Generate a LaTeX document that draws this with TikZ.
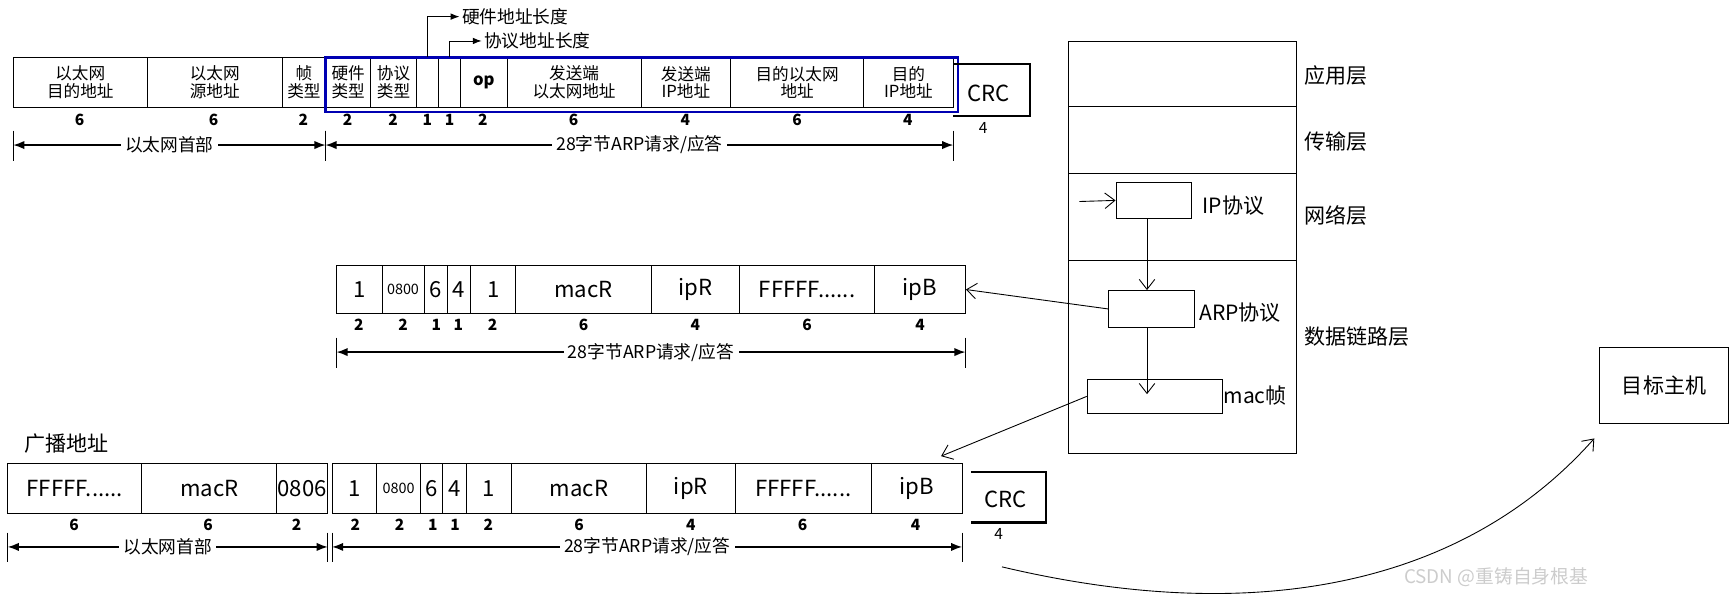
\documentclass[tikz,border=0pt]{standalone}
\usepackage{fontspec}
\setmainfont{Noto Sans CJK SC}
\usetikzlibrary{arrows.meta}
\tikzset{
  field/.style={draw=black,thick,inner sep=0pt,align=center,font=\fontsize{15}{16}\selectfont},
  bigfield/.style={field,font=\fontsize{20}{21}\selectfont},
  num/.style={inner sep=0pt,font=\bfseries\fontsize{14}{14}\selectfont},
  span/.style={{Latex[length=10pt]}-{Latex[length=10pt]},very thick},
  tick/.style={thick},
  flow/.style={-{Straight Barb[length=9pt,width=14pt]},thick},
  layer/.style={draw=black,thick,inner sep=0pt},
  txt/.style={inner sep=0pt,anchor=west,font=\fontsize{19}{20}\selectfont},
}
\newcommand\ffff{FFFFF......}
\newcommand\fieldrow[4]{% top, bottom, style, list a/b/text/name
  \foreach \a/\b/\t/\n in {#4}
    \node[#3,minimum width={(\b-\a)*1pt},minimum height={(#2-#1)*1pt}] (\n) at ({(\a+\b)/2},{(#1+#2)/2}) {\t};}
\newcommand\numrow[2]{% y, list x/value
  \foreach \x/\v in {#2} \node[num] at (\x,#1) {\v};}
\newcommand\spanrow[4]{% y, left, right, text
  \draw[tick] (#2,#1-13) -- (#2,#1+14);
  \draw[tick] (#3,#1-13) -- (#3,#1+14);
  \draw[span] (#2,#1) -- (#3,#1);
  \node[fill=white,inner sep=4pt,font=\fontsize{16}{16}\selectfont] at ({(#2+#3)/2},#1) {#4};}
\begin{document}
\begin{tikzpicture}[x=1pt,y=-1pt]
\useasboundingbox (0,0) rectangle (1568,552);
% row 1: arp frame format
\fieldrow{52}{97}{field}{12/133/{以太网\\目的地址}/dst, 133/255/{以太网\\源地址}/src, 255/294/{帧\\类型}/typ,
  294/335/{硬件\\类型}/hw, 335/376/{协议\\类型}/pro, 376/396/{}/hl, 396/416/{}/pl, 416/458/{\bfseries op}/op,
  458/579/{发送端\\以太网地址}/smac, 579/660/{发送端\\IP地址}/sip, 660/780/{目的以太网\\地址}/tmac, 780/861/{目的\\IP地址}/tip}
\draw[blue!70!black,line width=2pt] (294,52) rectangle (865,101);
\draw[line width=2pt] (861,58) -- (930,58) -- (930,105) -- (861,105);
\node[inner sep=0pt,font=\fontsize{20}{21}\selectfont] (crc1) at (893,84) {CRC};
\numrow{108}{72/6,193/6,274/2,314/2,355/2,386/1,406/1,436/2,518/6,619/4,720/6,820/4}
\node[num,font=\fontsize{14}{14}\selectfont] at (888,116) {4};
\spanrow{131}{12}{294}{以太网首部}
\spanrow{131}{294}{861}{28字节ARP请求/应答}
\draw[-{Latex[length=8pt]},thick] (hl.north) |- (415,15) node[right,inner sep=2pt,font=\fontsize{16}{16}\selectfont] {硬件地址长度};
\draw[-{Latex[length=8pt]},thick] (pl.north) |- (435,37) node[right,inner sep=2pt,font=\fontsize{16}{16}\selectfont] {协议地址长度};
% row 2: arp request
\fieldrow{240}{283}{bigfield}{304/345/1/a1, 345/383/{\fontsize{13}{13}\selectfont 0800}/a2, 383/404/6/a3, 404/425/4/a4,
  425/466/1/a5, 466/588/macR/a6, 588/668/ipR/a7, 668/790/\ffff/a8, 790/872/ipB/a9}
\numrow{293}{324/2,364/2,394/1,414/1,445/2,527/6,628/4,729/6,831/4}
\spanrow{318}{304}{872}{28字节ARP请求/应答}
% row 3: mac frame
\node[txt] (bc) at (22,401) {广播地址};
\fieldrow{419}{464}{bigfield}{7/128/\ffff/m1, 128/250/macR/m2, 250/296/0806/m3}
\fieldrow{419}{464}{bigfield}{300/340/1/b1, 340/380/{\fontsize{13}{13}\selectfont 0800}/b2, 380/400/6/b3, 400/421/4/b4,
  421/462/1/b5, 462/584/macR/b6, 584/664/ipR/b7, 664/787/\ffff/b8, 787/869/ipB/b9}
\draw[line width=2pt] (877,426) -- (945,426) -- (945,472) -- (877,472);
\node[inner sep=0pt,font=\fontsize{20}{21}\selectfont] (crc2) at (908,451) {CRC};
\numrow{474}{67/6,188/6,268/2,321/2,361/2,391/1,411/1,441/2,523/6,624/4,725/6,827/4}
\node[num,font=\fontsize{14}{14}\selectfont] at (902,482) {4};
\spanrow{494}{7}{296}{以太网首部}
\spanrow{494}{300}{869}{28字节ARP请求/应答}
% protocol stack
\draw[thick] (965,37) rectangle (1171,410);
\foreach \y in {96,157,235} \draw[thick] (965,\y) -- (1171,\y);
\node[txt] at (1178,68) {应用层};
\node[txt] at (1178,128) {传输层};
\node[txt] at (1178,195) {网络层};
\node[txt] at (1178,304) {数据链路层};
\node[layer,minimum width=68pt,minimum height=33pt] (ip) at (1042,181) {};
\node[txt] at (1086,186) {IP协议};
\node[layer,minimum width=78pt,minimum height=33pt] (arp) at (1040,279) {};
\node[txt] at (1083,282) {ARP协议};
\node[layer,minimum width=122pt,minimum height=30pt] (mac) at (1043,358) {};
\node[txt] at (1105,357) {mac帧};
\coordinate (in) at (975,182);
\draw[flow] (in) -- (ip.west);
\draw[flow] (ip.south -| 1036,0) -- (1036,262);
\draw[flow] (arp.south -| 1036,0) -- (1036,356);
\draw[flow] (arp.west) -- (a9.east);
\draw[flow] (mac.west) -- (850,412);
\node[draw,thick,minimum width=116pt,minimum height=69pt,font=\fontsize{19}{20}\selectfont] (host) at (1503,348) {目标主机};
\coordinate (out) at (905,512);
\draw[flow] (out) .. controls (1150,570) and (1330,520) .. (1440,396);
\node[txt,gray!40,font=\fontsize{17}{18}\selectfont] at (1268,521) {CSDN @重铸自身根基};
\end{tikzpicture}
\end{document}
